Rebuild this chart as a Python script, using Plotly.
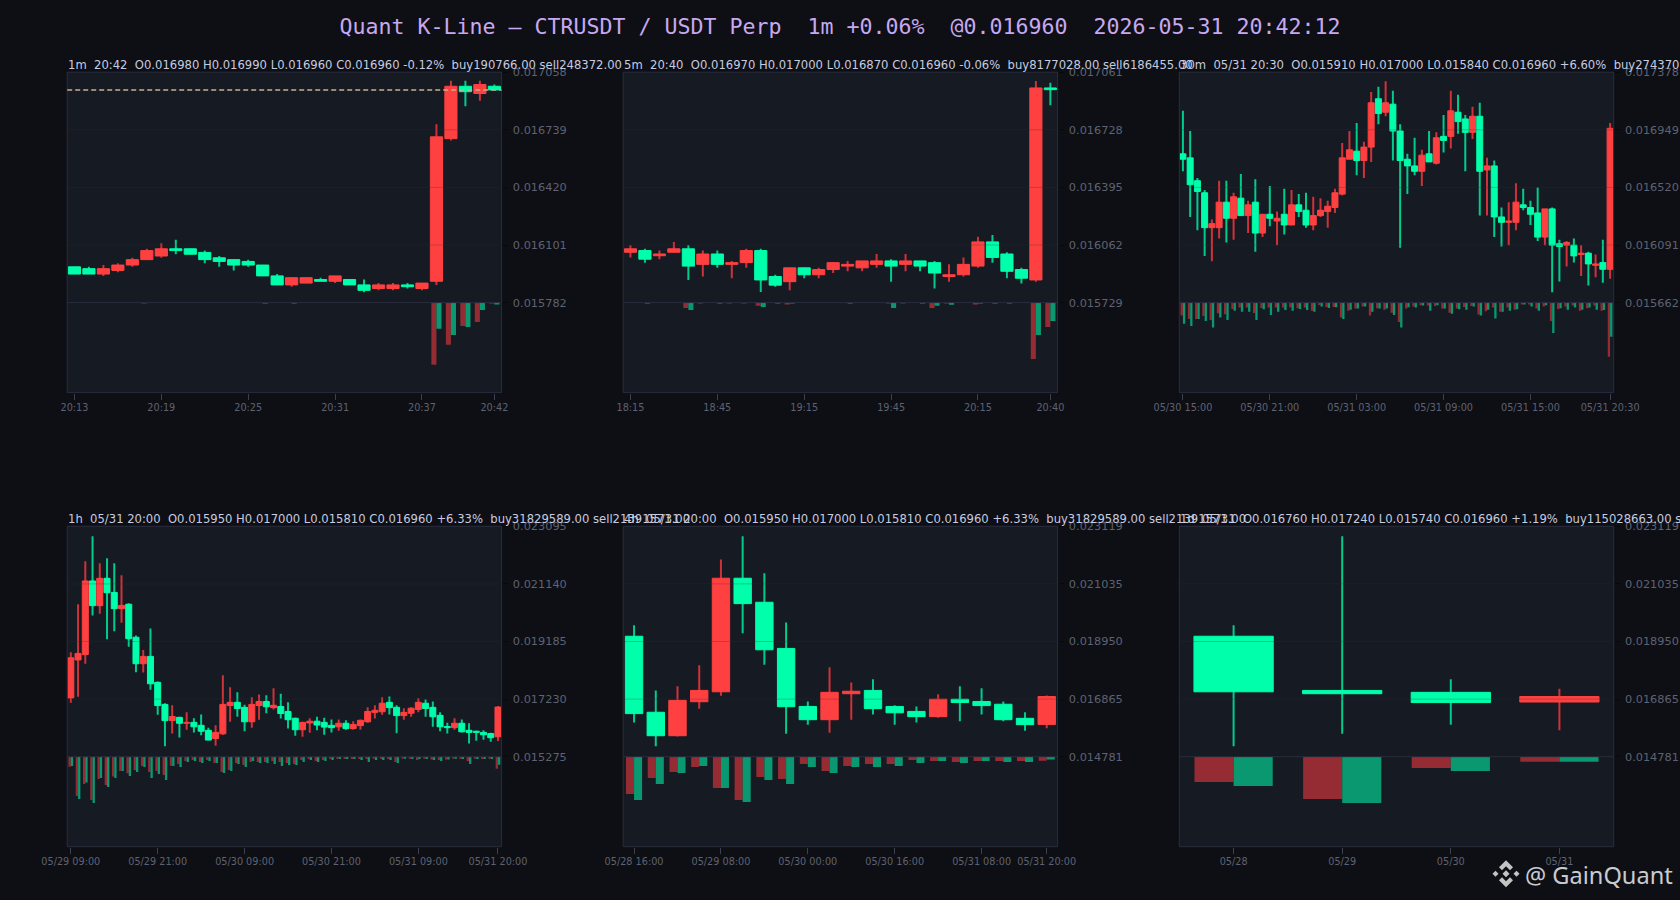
import plotly.graph_objects as go

# prices are kept in millionths of USDT, volumes in millions of contracts
PRICE_UNIT = 1e-6

TITLE = "Quant K-Line — CTRUSDT / USDT Perp  1m +0.06%  @0.016960  2026-05-31 20:42:12"
WATERMARK = "@ GainQuant"

# === 1m
title_1m = "1m  20:42  O0.016980 H0.016990 L0.016960 C0.016960 -0.12%  buy190766.00 sell248372.00"
yticks_1m = [0.015782, 0.016101, 0.016420, 0.016739, 0.017058]
xticks_1m = [0, 6, 12, 18, 24, 29]
xlabels_1m = ["20:13", "20:19", "20:25", "20:31", "20:37", "20:42"]
last_price = 0.016960
candles_1m = [
    (15980, 15980, 15940, 15940), (15970, 15980, 15940, 15940), (15940, 15990, 15930, 15970),
    (15960, 16000, 15950, 15990), (15990, 16030, 15980, 16020), (16020, 16080, 16020, 16070),
    (16040, 16110, 16030, 16080), (16080, 16130, 16050, 16070), (16080, 16080, 16050, 16050),
    (16060, 16070, 16000, 16020), (16030, 16040, 15980, 16010), (16020, 16020, 15960, 15990),
    (16010, 16020, 15980, 15990), (15990, 15990, 15930, 15930), (15930, 15940, 15880, 15880),
    (15880, 15920, 15870, 15920), (15890, 15920, 15890, 15920), (15910, 15920, 15900, 15900),
    (15900, 15930, 15890, 15930), (15910, 15910, 15880, 15880), (15880, 15910, 15840, 15850),
    (15860, 15890, 15850, 15880), (15860, 15890, 15850, 15880), (15880, 15890, 15860, 15870),
    (15860, 15890, 15850, 15890), (15900, 16770, 15880, 16700), (16690, 17010, 16680, 16980),
    (16980, 17010, 16870, 16950), (16940, 17010, 16900, 16990), (16980, 16990, 16960, 16960),
]
# bars too small to read in the picture are left at 0
buy_1m = [0, 0, 0, 0, 0, .2, 0, 0, 0, 0, 0, 0, 0, 0, 0, 0, 0, 0, 0, 0,
          0, 0, 0, 0, 0, 14.0, 9.5, 5.25, 4.35, .19]
sell_1m = [0, 0, 0, 0, 0, 0, 0, 0, 0, 0, 0, 0, 0, .2, 0, .2, 0, 0, 0, 0,
           0, 0, 0, 0, 0, 5.9, 7.3, 5.5, 1.65, .25]

# === 5m
title_5m = "5m  20:40  O0.016970 H0.017000 L0.016870 C0.016960 -0.06%  buy8177028.00 sell6186455.00"
yticks_5m = [0.015729, 0.016062, 0.016395, 0.016728, 0.017061]
xticks_5m = [0, 6, 12, 18, 24, 29]
xlabels_5m = ["18:15", "18:45", "19:15", "19:45", "20:15", "20:40"]
candles_5m = [
    (16020, 16060, 15990, 16040), (16030, 16040, 15960, 15980), (16000, 16030, 15980, 16010),
    (16020, 16080, 16020, 16040), (16040, 16060, 15860, 15940), (15950, 16030, 15880, 16010),
    (16010, 16030, 15930, 15950), (15950, 15970, 15870, 15960), (15960, 16040, 15930, 16030),
    (16030, 16040, 15790, 15860), (15880, 15890, 15820, 15830), (15850, 15930, 15800, 15930),
    (15930, 15930, 15870, 15890), (15890, 15930, 15870, 15920), (15920, 15960, 15900, 15960),
    (15940, 15970, 15910, 15950), (15930, 15970, 15910, 15970), (15950, 16010, 15930, 15970),
    (15970, 15980, 15850, 15940), (15950, 16010, 15910, 15970), (15970, 15970, 15910, 15940),
    (15960, 15970, 15810, 15900), (15880, 15950, 15850, 15890), (15890, 15990, 15880, 15950),
    (15940, 16110, 15930, 16080), (16080, 16120, 15960, 15990), (16010, 16020, 15870, 15910),
    (15920, 15930, 15840, 15870), (15860, 17010, 15850, 16970), (16970, 17000, 16870, 16960),
]
buy_5m = [0, 0, 0, 0, 1.8, .3, 0, .25, .3, 1.1, 0, .6, 0, 0, 0, 0, 0, 0, .2, .3,
          0, 1.8, .3, 0, .6, 0, 0, 0, 18.93, 8.18]
sell_5m = [0, .3, 0, 0, 2.46, 0, .3, 0, 0, 1.46, .2, .2, 0, 0, 0, .3, 0, 0, 1.8, 0,
           .3, 1.1, .7, 0, .2, .3, .2, 0, 10.87, 6.19]

# === 30m
title_30m = "30m  05/31 20:30  O0.015910 H0.017000 L0.015840 C0.016960 +6.60%  buy27437091.00 sell17283642.00"
yticks_30m = [0.015662, 0.016091, 0.016520, 0.016949, 0.017378]
xticks_30m = [0, 12, 24, 36, 48, 59]
xlabels_30m = ["05/30 15:00", "05/30 21:00", "05/31 03:00", "05/31 09:00", "05/31 15:00", "05/31 20:30"]
candles_30m = [
    (16770, 17090, 16640, 16730), (16740, 16940, 16300, 16540), (16570, 16590, 16200, 16490),
    (16480, 16500, 16010, 16220), (16220, 16280, 15970, 16250), (16220, 16570, 16140, 16410),
    (16410, 16570, 16110, 16290), (16290, 16480, 16130, 16450), (16440, 16620, 16310, 16310),
    (16310, 16420, 16180, 16390), (16410, 16580, 16040, 16180), (16180, 16320, 16150, 16320),
    (16320, 16530, 16230, 16290), (16270, 16340, 16090, 16290), (16320, 16510, 16170, 16240),
    (16240, 16500, 16240, 16390), (16390, 16470, 16300, 16340), (16350, 16480, 16220, 16240),
    (16240, 16450, 16200, 16310), (16310, 16440, 16300, 16350), (16340, 16420, 16220, 16380),
    (16370, 16510, 16330, 16480), (16470, 16850, 16460, 16740), (16730, 16940, 16730, 16800),
    (16790, 17000, 16610, 16720), (16720, 16860, 16590, 16820), (16820, 17230, 16710, 17150),
    (17180, 17270, 16990, 17070), (17080, 17310, 17050, 17150), (17140, 17240, 16720, 16940),
    (16940, 16990, 16070, 16720), (16730, 16770, 16470, 16680), (16680, 16890, 16610, 16640),
    (16640, 16800, 16530, 16760), (16770, 16940, 16710, 16710), (16700, 16930, 16690, 16890),
    (16900, 17060, 16780, 16870), (16900, 17240, 16810, 17090), (17080, 17210, 16920, 17010),
    (17030, 17060, 16640, 16930), (16930, 17120, 16880, 17050), (17050, 17150, 16310, 16640),
    (16650, 16740, 16310, 16680), (16680, 16720, 16150, 16300), (16300, 16370, 16080, 16260),
    (16260, 16410, 16090, 16270), (16260, 16550, 16200, 16410), (16390, 16510, 16350, 16370),
    (16370, 16420, 16240, 16320), (16330, 16520, 16120, 16150), (16150, 16360, 16090, 16360),
    (16360, 16370, 15740, 16090), (16100, 16130, 15820, 16080), (16090, 16120, 15930, 16110),
    (16090, 16140, 15960, 16010), (16020, 16090, 15860, 16030), (16030, 16040, 15790, 15950),
    (15940, 16020, 15850, 15950), (15960, 16130, 15810, 15910), (15910, 17000, 15840, 16960),
]
buy_30m = [6.6, 8.3, 8.3, 6.8, 8.8, 5.4, 5.9, 3.2, 2.5, 2.5, 5.3, 2.7, 2.5, 2.5, 2.5, 2.4, 2.9, 2.5, 4.2, 1.2,
           2.2, 2.2, 7.6, 4.1, 3.0, 2.0, 6.6, 2.9, 3.6, 5.1, 9.8, 3.0, 2.0, 1.4, 1.5, 1.7, 3.0, 5.1, 3.0, 2.2,
           1.7, 6.1, 4.4, 2.5, 4.6, 2.5, 3.6, .8, .7, 3.0, 2.0, 9.3, 3.2, 2.0, 1.5, 4.1, 2.9, 1.5, 4.1, 27.44]
sell_30m = [10.7, 11.9, 8.3, 9.3, 12.7, 7.6, 8.8, 4.1, 4.7, 4.7, 8.8, 3.4, 6.3, 4.7, 3.7, 4.2, 3.2, 3.7, 4.7, 2.0,
            2.7, 2.4, 8.3, 3.6, 3.0, 2.0, 4.7, 3.0, 3.0, 6.3, 12.7, 2.4, 2.5, 1.5, 4.1, 1.4, 3.0, 5.6, 3.4, 3.6,
            2.0, 6.6, 3.6, 8.1, 4.6, 4.1, 3.4, 1.0, 2.0, 4.1, 1.4, 15.4, 2.9, 3.6, 2.5, 3.6, 2.5, 3.6, 3.7, 17.28]

# === 1h
title_1h = "1h  05/31 20:00  O0.015950 H0.017000 L0.015810 C0.016960 +6.33%  buy31829589.00 sell21391571.00"
yticks_1h = [0.015275, 0.017230, 0.019185, 0.021140, 0.023095]
xticks_1h = [0, 12, 24, 36, 48, 59]
xlabels_1h = ["05/29 09:00", "05/29 21:00", "05/30 09:00", "05/30 21:00", "05/31 09:00", "05/31 20:00"]
candles_1h = [
    (17270, 18820, 17110, 18630), (18560, 20450, 17310, 18780), (18740, 21910, 18430, 21240),
    (21240, 22760, 20070, 20400), (20400, 21840, 20130, 21330), (21330, 22010, 19260, 20840),
    (20850, 21840, 19530, 20300), (20300, 21430, 19820, 20410), (20450, 20480, 19010, 19280),
    (19330, 19390, 18140, 18430), (18430, 18900, 18130, 18680), (18680, 19630, 17550, 17750),
    (17800, 17830, 16700, 17010), (17050, 17090, 15630, 16500), (16500, 17020, 16060, 16640),
    (16610, 16630, 15930, 16410), (16410, 16780, 16190, 16440), (16440, 16580, 16100, 16290),
    (16340, 16710, 16000, 16140), (16170, 16260, 15830, 15840), (15890, 16340, 15650, 16100),
    (16050, 18040, 16020, 17050), (17010, 17630, 16460, 17120), (17120, 17460, 16630, 16910),
    (16950, 17040, 16140, 16460), (16460, 17290, 16260, 17050), (17010, 17390, 16530, 17150),
    (17150, 17360, 16750, 16970), (16940, 17600, 16880, 17020), (16980, 17410, 16570, 16740),
    (16810, 17120, 16230, 16530), (16580, 16600, 15990, 16190), (16190, 16460, 15950, 16440),
    (16420, 16580, 16090, 16480), (16480, 16630, 16170, 16350), (16440, 16600, 16020, 16280),
    (16340, 16540, 16100, 16260), (16290, 16540, 16160, 16410), (16410, 16510, 16190, 16230),
    (16230, 16480, 16190, 16370), (16330, 16540, 16190, 16510), (16460, 16950, 16430, 16810),
    (16780, 17020, 16570, 16850), (16800, 17290, 16700, 17090), (17120, 17320, 16710, 16940),
    (16950, 17020, 16070, 16670), (16670, 16920, 16530, 16780), (16750, 16950, 16630, 16920),
    (16880, 17260, 16780, 17120), (17090, 17220, 16630, 16910), (16950, 17150, 16290, 16630),
    (16680, 16780, 16140, 16290), (16300, 16430, 16060, 16260), (16260, 16580, 16190, 16410),
    (16410, 16540, 16100, 16120), (16170, 16410, 15720, 16100), (16140, 16160, 15820, 16100),
    (16100, 16170, 15850, 16020), (16060, 16090, 15780, 15920), (15950, 17000, 15810, 16960),
]
buy_1h = [26.5, 104.3, 72.5, 114.9, 59.2, 75.1, 52.2, 38.0, 44.2, 35.4, 24.8, 40.7, 38.0, 48.6, 23.9, 19.4, 11.5, 8.8,
          14.1, 8.8, 16.8, 40.7, 35.4, 16.8, 22.1, 14.1, 14.1, 14.1, 11.5, 14.1, 16.8, 19.4, 8.8, 6.2, 11.5, 8.8,
          6.2, 6.2, 6.2, 6.2, 6.2, 6.2, 5.3, 6.2, 6.2, 14.1, 3.5, 3.5, 8.8, 4.4, 7.1, 8.8, 7.1, 4.4, 6.2, 11.5,
          5.3, 6.2, 3.5, 31.83]
sell_1h = [24.8, 112.3, 68.1, 122.9, 56.6, 80.4, 56.6, 38.0, 51.3, 40.7, 27.4, 56.6, 46.0, 61.9, 24.8, 27.4, 14.1, 11.5,
           16.8, 11.5, 16.8, 43.3, 38.0, 19.4, 27.4, 11.5, 16.8, 16.8, 19.4, 24.8, 22.1, 22.1, 14.1, 8.8, 14.1, 11.5,
           8.8, 6.2, 6.2, 6.2, 8.8, 14.1, 8.8, 8.8, 8.8, 16.8, 4.4, 6.2, 6.2, 6.2, 8.8, 11.5, 7.1, 4.4, 6.2, 19.4,
           6.2, 6.2, 6.2, 21.39]

# === 4h
title_4h = "4h  05/31 20:00  O0.015950 H0.017000 L0.015810 C0.016960 +6.33%  buy31829589.00 sell21391571.00"
yticks_4h = [0.014781, 0.016865, 0.018950, 0.021035, 0.023119]
xticks_4h = [0, 4, 8, 12, 16, 19]
xlabels_4h = ["05/28 16:00", "05/29 08:00", "05/30 00:00", "05/30 16:00", "05/31 08:00", "05/31 20:00"]
candles_4h = [
    (19140, 19540, 16020, 16340), (16390, 17180, 15160, 15540), (15540, 17330, 15510, 16820),
    (16770, 18090, 16520, 17180), (17130, 21920, 16990, 21240), (21240, 22760, 19250, 20320),
    (20370, 21420, 18110, 18650), (18700, 19640, 15610, 16590), (16600, 16780, 15940, 16120),
    (16120, 18020, 15650, 17110), (17060, 17470, 16120, 17150), (17180, 17580, 16310, 16520),
    (16600, 16640, 15940, 16370), (16420, 16600, 16020, 16230), (16230, 17040, 16190, 16860),
    (16860, 17330, 16060, 16740), (16780, 17260, 16310, 16630), (16680, 16780, 16060, 16120),
    (16170, 16390, 15720, 15940), (15950, 17000, 15810, 16960),
]
buy_4h = [297, 170, 122, 82, 249, 345, 162, 178, 58, 114, 74, 58, 58, 26.5, 34.5, 42, 34.5, 34.5, 34.5, 31.83]
sell_4h = [345, 217, 130, 74, 249, 360, 186, 217, 82, 130, 82, 82, 74, 50, 34.5, 50, 34.5, 42, 42, 21.39]

# === 1d
title_1d = "1d  05/31  O0.016760 H0.017240 L0.015740 C0.016960 +1.19%  buy115028663.00 sell114860220.00"
yticks_1d = [0.014781, 0.016865, 0.018950, 0.021035, 0.023119]
xticks_1d = [0, 1, 2, 3]
xlabels_1d = ["05/28", "05/29", "05/30", "05/31"]
candles_1d = [
    (19140, 19540, 15160, 17130), (17180, 22760, 15610, 17060),
    (17110, 17580, 15940, 16740), (16760, 17240, 15740, 16960),
]
buy_1d = [583, 974, 261, 115.03]
sell_1d = [675, 1066, 330, 114.86]

W, H = 1680, 900
BG = "#0d0f14"
PANEL = "#161a23"
BORDER = "#2a2d3e"
TICK_TXT = "#5f6272"
HEAD_TXT = "#c8cce0"
UP, DOWN = "#ff4040", "#00ffaa"
UP_WICK, DOWN_WICK = "#cf3239", "#00cc8c"
UP_VOL, DOWN_VOL = "#952c33", "#0a9870"
FONT = "DejaVu Sans"
PANEL_W, PANEL_H, PRICE_H = 434.4, 320.4, 230.4
WICK_PX = 2

# title, candles, buy, sell, yticks, xticks, xlabels, volume axis top, left, top, body width, volume bar width
panels = [
    (title_1m, candles_1m, buy_1m, sell_1m, yticks_1m, xticks_1m, xlabels_1m, 20.25, 67.2, 72.2, 0.84, 0.35),
    (title_5m, candles_5m, buy_5m, sell_5m, yticks_5m, xticks_5m, xlabels_5m, 30.24, 623.2, 72.2, 0.84, 0.35),
    (title_30m, candles_30m, buy_30m, sell_30m, yticks_30m, xticks_30m, xlabels_30m, 45.7, 1179.3, 72.2, 0.83, 0.32),
    (title_1h, candles_1h, buy_1h, sell_1h, yticks_1h, xticks_1h, xlabels_1h, 238.7, 67.2, 526.3, 0.83, 0.32),
    (title_4h, candles_4h, buy_4h, sell_4h, yticks_4h, xticks_4h, xlabels_4h, 716, 623.2, 526.3, 0.80, 0.37),
    (title_1d, candles_1d, buy_1d, sell_1d, yticks_1d, xticks_1d, xlabels_1d, 2070, 1179.3, 526.3, 0.73, 0.36),
]


def px(x, y):
    return x / W, 1 - y / H


def logo_path(points):
    return "M " + " L ".join("%.5f %.5f" % px(a, b) for a, b in points) + " Z"


def axis_id(letter, n):
    return letter if n == 1 else f"{letter}{n}"


fig = go.Figure()
shapes, annotations = [], []

for i, (title, candles, buy, sell, yticks, xticks, xlabels, vol_top, left, top, body_w, vol_w) in enumerate(panels):
    n = i + 1
    xa, ya_price, ya_vol = axis_id("x", n), axis_id("y", 2 * n - 1), axis_id("y", 2 * n)
    idx = list(range(len(candles)))
    o = [c[0] * PRICE_UNIT for c in candles]
    h = [c[1] * PRICE_UNIT for c in candles]
    l = [c[2] * PRICE_UNIT for c in candles]
    c_ = [c[3] * PRICE_UNIT for c in candles]
    is_up = [a >= b for a, b in zip(c_, o)]

    # wicks first, bodies on top
    fig.add_trace(go.Bar(x=idx, y=[a - b for a, b in zip(h, l)], base=l, width=WICK_PX * len(candles) / PANEL_W,
                         marker=dict(color=[UP_WICK if u else DOWN_WICK for u in is_up], line_width=0),
                         xaxis=xa, yaxis=ya_price, showlegend=False))
    fig.add_trace(go.Bar(x=idx, y=[abs(a - b) for a, b in zip(c_, o)], base=[min(a, b) for a, b in zip(c_, o)], width=body_w,
                         marker=dict(color=[UP if u else DOWN for u in is_up],
                                     line=dict(color=[UP if u else DOWN for u in is_up], width=1)),
                         xaxis=xa, yaxis=ya_price, showlegend=False))
    fig.add_trace(go.Bar(x=idx, y=buy, offset=-vol_w, width=vol_w, marker=dict(color=UP_VOL, line_width=0),
                         xaxis=xa, yaxis=ya_vol, showlegend=False))
    fig.add_trace(go.Bar(x=idx, y=sell, offset=0, width=vol_w, marker=dict(color=DOWN_VOL, line_width=0),
                         xaxis=xa, yaxis=ya_vol, showlegend=False))

    x0, x1 = left / W, (left + PANEL_W) / W
    y_bottom = 1 - (top + PANEL_H) / H
    y_split = 1 - (top + PRICE_H) / H
    y_top = 1 - top / H
    fig.update_layout(**{
        f"xaxis{n}": dict(domain=[x0, x1], range=[-0.5, len(candles) - 0.5], anchor=ya_vol, tickmode="array",
                          tickvals=xticks, ticktext=xlabels, tickangle=0, ticks="outside", ticklen=6, tickcolor="#3c3f50",
                          tickfont=dict(family=FONT, size=9.7, color=TICK_TXT), showgrid=False, zeroline=False),
        f"yaxis{2 * n - 1}": dict(domain=[y_split, y_top], range=[yticks[0], yticks[-1]], anchor=xa, side="right",
                                  tickmode="array", tickvals=yticks, tickformat=".6f", ticks="outside", ticklen=5,
                                  ticklabelstandoff=3, tickcolor="#08090c", tickfont=dict(family=FONT, size=11.3, color=TICK_TXT),
                                  showgrid=False, zeroline=False),
        f"yaxis{2 * n}": dict(domain=[y_bottom, y_split], range=[vol_top, 0], anchor=xa, showticklabels=False,
                              ticks="", showgrid=False, zeroline=False),
    })

    # grid sits above the candles here
    for tick in yticks[1:-1]:
        shapes.append(dict(type="line", xref=f"{xa} domain", yref=ya_price, x0=0, x1=1, y0=tick, y1=tick,
                           layer="above", line=dict(color="rgba(42,46,62,0.28)", width=1)))
    shapes.append(dict(type="line", xref="paper", yref="paper", x0=x0, x1=x1, y0=y_split, y1=y_split,
                       layer="above", line=dict(color=BORDER, width=1)))
    shapes.append(dict(type="rect", xref="paper", yref="paper", x0=x0, x1=x1, y0=y_bottom, y1=y_top,
                       layer="above", line=dict(color=BORDER, width=1)))
    annotations.append(dict(text=title, xref="paper", yref="paper", x=x0 - 0.5 / W, y=1 - (top - 7.5) / H, xanchor="left",
                            yanchor="middle", showarrow=False, borderpad=0, align="left",
                            font=dict(family=FONT, size=11.6, color=HEAD_TXT)))

# last price line on the 1m panel
shapes.append(dict(type="line", xref="x domain", yref="y", x0=0, x1=1, y0=last_price, y1=last_price, layer="above",
                   line=dict(color="#c8b08c", width=1.5, dash="5px,3px")))

# watermark logo
cx, cy = 1506, 873.7
for pts in (
    [(0, -13.5), (7, -6.5), (4, -3.5), (0, -7.5), (-4, -3.5), (-7, -6.5)],
    [(0, 13.5), (7, 6.5), (4, 3.5), (0, 7.5), (-4, 3.5), (-7, 6.5)],
    [(-13.5, 0), (-10.5, -3), (-7.5, 0), (-10.5, 3)],
    [(13.5, 0), (10.5, -3), (7.5, 0), (10.5, 3)],
    [(0, -3.5), (3.5, 0), (0, 3.5), (-3.5, 0)],
):
    shapes.append(dict(type="path", xref="paper", yref="paper", layer="above", line_width=0, fillcolor="#c4c4c4",
                       path=logo_path([(cx + a, cy + b) for a, b in pts])))
annotations.append(dict(text=WATERMARK, xref="paper", yref="paper", x=1524 / W, y=1 - 874.5 / H, xanchor="left",
                        yanchor="middle", showarrow=False, borderpad=0,
                        font=dict(family="Noto Sans", size=23.6, color="#c8ccd0")))

fig.update_layout(
    width=W, height=H, margin=dict(l=0, r=0, t=0, b=0, autoexpand=False), autosize=False,
    paper_bgcolor=BG, plot_bgcolor=PANEL, barmode="overlay", showlegend=False,
    title=dict(text=TITLE, x=0.5, xanchor="center", xref="paper", y=1 - 26.8 / H, yanchor="middle",
               font=dict(family="DejaVu Sans Mono", size=21.6, color="#c8a8f0")),
    shapes=shapes, annotations=annotations,
)

fig.write_html("out.html", config={"displayModeBar": False}, post_script="document.body.style.margin='0';")
